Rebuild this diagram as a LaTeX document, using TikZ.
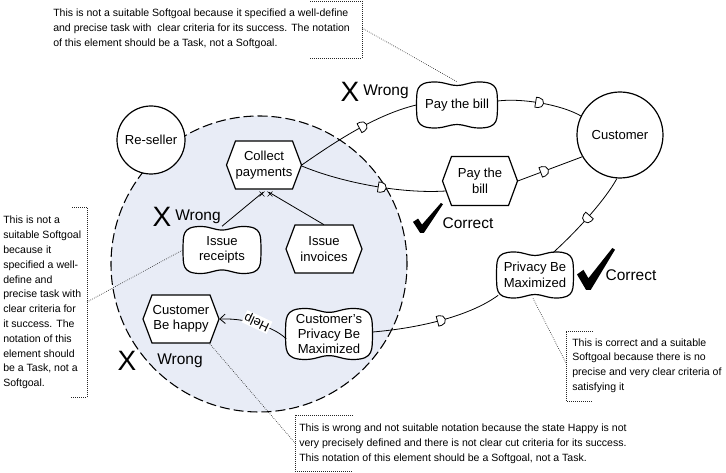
\documentclass[tikz,border=0pt]{standalone}
\usepackage{fontspec}
\setmainfont{Liberation Sans}
\usetikzlibrary{calc,decorations.markings,arrows.meta}
\definecolor{bubble}{HTML}{E8ECF6}
\tikzset{
  shapeline/.style={draw=black, line width=0.9pt, fill=white},
  lbl/.style={inner sep=0pt, align=center, font=\fontsize{9.8}{11.6}\selectfont},
  actor/.style={circle, draw=black, line width=0.9pt, fill=white, inner sep=0pt, font=\fontsize{9.8}{11.6}\selectfont},
  dlink/.style={draw=black, line width=0.6pt},
  dm/.style={postaction={decorate, decoration={markings, mark=at position #1 with {\draw[fill=white, line width=0.6pt] (-3,-5) -- (0,-5) arc(-90:90:5) -- (-3,5) -- cycle;}}}},
  notetext/.style={inner sep=0pt, align=left, anchor=west, font=\fontsize{7.9}{11.1}\selectfont},
  notebr/.style={draw=black!85, densely dotted, line width=0.5pt},
  verdict/.style={inner sep=0pt, font=\fontsize{11.6}{14}\selectfont},
  bigx/.style={inner sep=0pt, font=\fontsize{21}{24}\selectfont},
}
\newcommand\softgoal[6]{%
  \draw[shapeline,shift={(#2,#3)}] (-#4,0)
   .. controls ({-0.99*#4},{-0.6*#5}) and ({-1.04*#4},{-#5}) .. ({-0.55*#4},{-#5})
   .. controls ({-0.3*#4},{-#5}) and ({-0.2*#4},{-0.85*#5}) .. (0,{-0.85*#5})
   .. controls ({0.2*#4},{-0.85*#5}) and ({0.3*#4},{-#5}) .. ({0.55*#4},{-#5})
   .. controls ({1.04*#4},{-#5}) and ({0.99*#4},{-0.6*#5}) .. (#4,0)
   .. controls ({0.99*#4},{0.6*#5}) and ({1.04*#4},{#5}) .. ({0.55*#4},{#5})
   .. controls ({0.3*#4},{#5}) and ({0.2*#4},{0.85*#5}) .. (0,{0.85*#5})
   .. controls ({-0.2*#4},{0.85*#5}) and ({-0.3*#4},{#5}) .. ({-0.55*#4},{#5})
   .. controls ({-1.04*#4},{#5}) and ({-0.99*#4},{0.6*#5}) .. (-#4,0) -- cycle;
  \node[lbl, minimum width={2*#4*0.75pt}, minimum height={2*#5*0.75pt}] (#1) at (#2,#3) {#6};}
\newcommand\taskhex[6]{%
  \draw[shapeline,shift={(#2,#3)}] (-#4,0) -- ({-#4+9},-#5) -- ({#4-9},-#5) -- (#4,0) -- ({#4-9},#5) -- ({-#4+9},#5) -- cycle;
  \node[lbl, minimum width={2*#4*0.75pt}, minimum height={2*#5*0.75pt}] (#1) at (#2,#3) {#6};}
\newcommand\chk[4]{%
  \fill[shift={(#1,#2)}, xscale=#3, yscale=#4] (0,0.63) -- (0.17,0.52) -- (0.30,0.72) -- (0.93,0) -- (1,0.04) -- (0.36,1) -- (0.24,1) -- cycle;}
\begin{document}
\begin{tikzpicture}[x=0.75pt,y=-0.75pt]
\useasboundingbox (0,0) rectangle (726,473);
% boundary of the actor
\draw[fill=bubble, draw=black, line width=0.8pt, dash pattern=on 7.5pt off 3pt] (259,264) circle[radius=111pt];
% actors
\node[actor, minimum size=51pt] (res) at (151,140) {Re-seller};
\node[actor, minimum size=64.5pt] (cust) at (620,135) {Customer};
% elements
\taskhex{cp}{264}{165}{37.5}{24}{Collect\\payments}
\softgoal{ir}{222}{250}{39}{23.5}{Issue\\receipts}
\taskhex{ii}{324}{249}{38}{24}{Issue\\invoices}
\taskhex{cbh}{181}{319}{38}{24}{Customer\\Be happy}
\softgoal{cpm}{329}{334}{43.5}{25.5}{Customer's\\Privacy Be\\Maximized}
\softgoal{psg}{457}{105}{40.5}{23}{Pay the bill}
\taskhex{tk}{480}{181}{37.5}{24.5}{Pay the\\bill}
\softgoal{priv}{535}{275}{38.5}{23}{Privacy Be\\Maximized}
% dependency links
\draw[dlink, dm=0.55] (cp.east) .. controls (335,142) and (375,115) .. (psg.west);
\draw[dlink, dm=0.48] ($(psg.east)+(0,-4)$) .. controls (520,98) and (560,104) .. (cust.154);
\draw[dlink, dm=0.56] ($(cp.east)+(0,1)$) .. controls (340,182) and (400,194) .. ($(tk.west)+(3.5,10)$);
\draw[dlink, dm=0.4] (tk.east) -- (cust.210);
\draw[dlink, dm=0.5] (cust.266) .. controls (605,200) and (578,230) .. ($(priv.north)+(18,1)$);
\draw[dlink, dm=0.52] ($(cpm.east)+(0,-2)$) .. controls (420,328) and (470,316) .. ($(priv.south west)+(2,-3)$);
% decomposition links
\draw[dlink] ($(cp.south)+(-1,3)$) -- (ir.north);
\draw[dlink] ($(cp.south)+(5,3)$) -- (ii.north);
\draw[line width=0.5pt] (259.5,191.5) -- (264.5,196.5) (259.5,196.5) -- (264.5,191.5)
  (267.5,191.5) -- (272.5,196.5) (267.5,196.5) -- (272.5,191.5);
% help link
\draw[dlink, -{Straight Barb[length=4pt,width=7pt]}] ($(cpm.west)+(1,5)$) .. controls (278,330) and (252,318) .. (cbh.east);
\node[inner sep=0.6pt, fill=white, rotate=155, font=\fontsize{9.5}{11}\selectfont] (help) at (257,322) {Help};
% verdicts
\node[bigx] (x1) at (350,92) {X};
\node[verdict] (w1) at (386,92) {Wrong};
\node[bigx] (x2) at (162,217) {X};
\node[verdict] (w2) at (198,217) {Wrong};
\node[bigx] (x3) at (127,361) {X};
\node[verdict] (w3) at (180,361) {Wrong};
\chk{413}{203}{30}{30}
\node[verdict] (c1) at (468,223) {Correct};
\chk{577}{248}{38}{42}
\node[verdict] (c2) at (631,275) {Correct};
% annotations
\node[notetext] (n1) at (53,28.5) {This is not a suitable Softgoal because it specified a well-define\\and precise task with\ \ clear criteria for its success. The notation\\of this element should be a Task, not a Softgoal.};
\draw[notebr] (310,1) -- (362,1) -- (362,58) -- (310,58);
\coordinate (b1) at (362,28);
\draw[notebr] (b1) -- (psg.north);
\node[notetext] (n2) at (3,302.5) {This is not a\\suitable Softgoal\\because it\\specified a well-\\define and\\precise task with\\clear criteria for\\it success. The\\notation of this\\element should\\be a Task, not a\\Softgoal.};
\draw[notebr] (72,207) -- (87,207) -- (87,397) -- (70,397);
\coordinate (b2) at (87,302);
\draw[notebr] (b2) -- (ir.west);
\node[notetext] (n3) at (299,444) {This is wrong and not suitable notation because the state Happy is not\\very precisely defined and there is not clear cut criteria for its success.\\This notation of this element should be a Softgoal, not a Task.};
\draw[notebr] (353,415) -- (295,415) -- (295,471) -- (353,471);
\coordinate (b3) at (295,443);
\draw[notebr] (b3) -- ($(cbh.south east)+(-10,0)$);
\node[notetext] (n4) at (572,365.5) {This is correct and a suitable\\Softgoal because there is no\\precise and very clear criteria of\\satisfying it};
\draw[notebr] (593,331) -- (566,331) -- (566,401) -- (593,401);
\coordinate (b4) at (566,363);
\draw[notebr] (b4) -- ($(priv.south)+(-2,0)$);
\end{tikzpicture}
\end{document}
